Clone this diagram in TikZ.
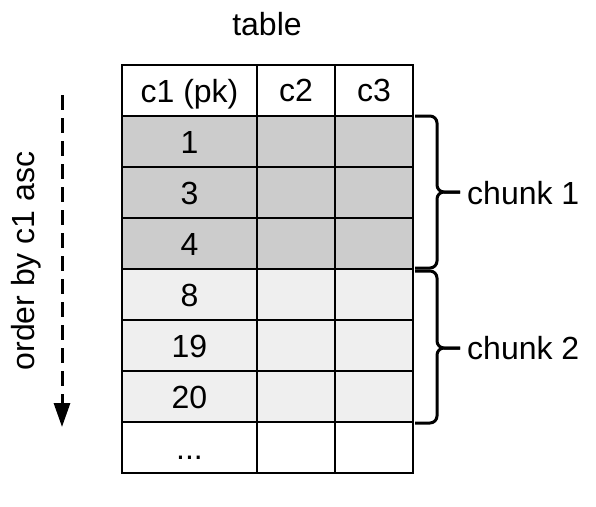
\documentclass[tikz,border=0pt]{standalone}
\usepackage{fontspec}
\setmainfont{Liberation Sans}
\usetikzlibrary{arrows.meta}
\definecolor{darkcell}{RGB}{204,204,204}
\definecolor{lightcell}{RGB}{239,239,239}
\newcommand\celldots{...}
\begin{document}
\begin{tikzpicture}[x=1pt,y=-1pt,
  cell/.style={draw=black, line width=2pt, inner sep=0pt, minimum height=51pt,
    font=\fontsize{32}{38}\selectfont, text height=23pt, text depth=0pt},
  colA/.style={cell, minimum width=135pt},
  colB/.style={cell, minimum width=78pt},
  colC/.style={cell, minimum width=78pt},
  lbl/.style={font=\fontsize{32}{38}\selectfont, inner sep=0pt},
  brace/.style={line width=3pt, rounded corners=7pt},
  ordarrow/.style={line width=3pt, dash pattern=on 15pt off 8pt, -{Triangle[length=24pt,width=16pt]}}
]
\useasboundingbox (0,0) rectangle (596,506);
\node[lbl] (title) at (267,24) {table};
% rows
\foreach \r/\y/\t/\f in {0/90.5/c1 (pk)/white, 1/141.5/1/darkcell, 2/192.5/3/darkcell, 3/243.5/4/darkcell, 4/294.5/8/lightcell, 5/345.5/19/lightcell, 6/396.5/20/lightcell, 7/447.5/\celldots/white}{
  \node[colA, fill=\f] (a\r) at (189.5,\y) {\t};
  \node[colB, fill=\f] (b\r) at (296,\y) {};
  \node[colC, fill=\f] (c\r) at (374,\y) {};
}
\node[lbl, text height=23pt] at (b0) {c2};
\node[lbl, text height=23pt] at (c0) {c3};
% braces
\coordinate (t1) at (460,192);
\coordinate (b1s) at (415,116);
\coordinate (b1e) at (415,268);
\draw[brace] (b1s) -- (437,116) -- (437,192) -- (t1);
\draw[brace] (b1e) -- (437,268) -- (437,192) -- (t1);
\coordinate (t2) at (460,348);
\coordinate (b2s) at (415,271);
\coordinate (b2e) at (415,423);
\draw[brace] (b2s) -- (437,271) -- (437,348) -- (t2);
\draw[brace] (b2e) -- (437,423) -- (437,348) -- (t2);
\node[lbl, anchor=west] (ch1) at (467,193) {chunk 1};
\node[lbl, anchor=west] (ch2) at (467,348) {chunk 2};
% order arrow
\coordinate (arrS) at (62,95);
\coordinate (arrE) at (62,427);
\draw[ordarrow] (arrS) -- (arrE);
\node[lbl, rotate=90] (ord) at (26,261) {order by c1 asc};
\end{tikzpicture}
\end{document}
